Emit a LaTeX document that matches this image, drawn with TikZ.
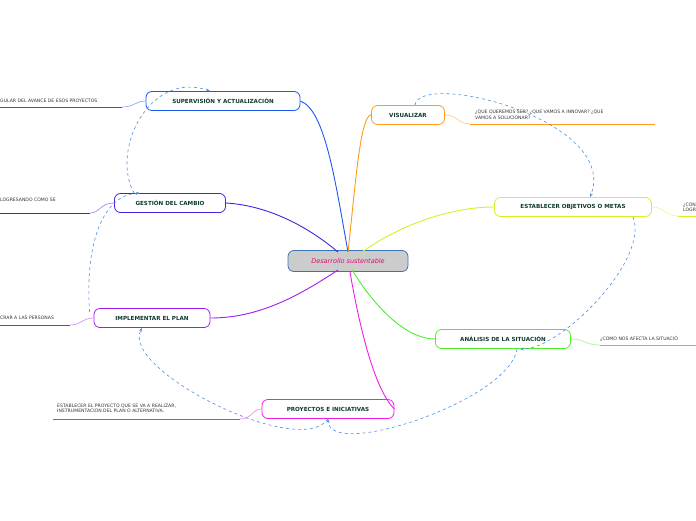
\documentclass[tikz,border=0pt]{standalone}
\usepackage{fontspec}
\setmainfont{DejaVu Sans}
\usetikzlibrary{arrows.meta}
\definecolor{cblue}{HTML}{1E56F0}
\definecolor{cind}{HTML}{4A1FE0}
\definecolor{cpur}{HTML}{A21CF0}
\definecolor{cmag}{HTML}{F01CE8}
\definecolor{cora}{HTML}{FF9A1A}
\definecolor{cyel}{HTML}{D6F02A}
\definecolor{cgre}{HTML}{4CF02A}
\definecolor{dash}{HTML}{4A90E2}
\definecolor{txt}{HTML}{0E3A2E}
\tikzset{x=1pt,y=-1pt,
 topic/.style={draw=#1,line width=0.8pt,rounded corners=6pt,fill=white,font=\bfseries\fontsize{5.6}{6}\selectfont,text=txt,minimum height=19pt,inner xsep=6pt},
 leaf/.style={font=\fontsize{4.6}{5.4}\selectfont,text=black!80,align=left,anchor=west,inner sep=0pt},
 link/.style={dashed,draw=dash,line width=0.6pt,-{Stealth[length=4pt]}},
 br/.style={line width=0.9pt}}
\begin{document}
\begin{tikzpicture}
\useasboundingbox (0,0) rectangle (696,520);
\node[draw=dash!80!black,fill=black!20,rounded corners=6pt,line width=0.8pt,minimum width=120pt,minimum height=21pt,font=\itshape\fontsize{6.5}{7}\selectfont,text=magenta!80!red] (c) at (348,261) {Desarrollo sustentable};
\node[topic=cblue,minimum width=154pt] (sup) at (223,101) {SUPERVISIÓN Y ACTUALIZACIÓN};
\node[topic=cind,minimum width=111pt] (ges) at (170,203) {GESTIÓN DEL CAMBIO};
\node[topic=cpur,minimum width=116pt] (imp) at (152,318) {IMPLEMENTAR EL PLAN};
\node[topic=cmag,minimum width=132pt] (pro) at (328,409) {PROYECTOS E INICIATIVAS};
\node[topic=cora,minimum width=73pt] (vis) at (408,115) {VISUALIZAR};
\node[topic=cyel,minimum width=157pt] (est) at (573,207) {ESTABLECER OBJETIVOS O METAS};
\node[topic=cgre,minimum width=135pt] (ana) at (503,339) {ANÁLISIS DE LA SITUACIÓN};
% branches
\coordinate (cc) at (348,252);
\draw[br,cblue] (cc) .. controls (335,180) and (325,110) .. (sup.east);
\draw[br,cind] (338,252) .. controls (300,220) and (260,205) .. (ges.east);
\draw[br,cpur] (338,270) .. controls (300,295) and (260,318) .. (imp.east);
\draw[br,cmag] (350,272) .. controls (360,330) and (375,390) .. (pro.east);
\draw[br,cora] (348,252) .. controls (355,190) and (360,115) .. (vis.west);
\draw[br,cyel] (362,252) .. controls (400,225) and (450,207) .. (est.west);
\draw[br,cgre] (352,270) .. controls (380,315) and (410,339) .. (ana.west);
% leaves
\node[leaf] (l1) at (0,101) {GULAR DEL AVANCE DE ESOS PROYECTOS};
\coordinate (l1e) at (122,107); \draw[br,cblue] (0,107) -- (l1e);
\draw[cblue!50,line width=0.7pt] (l1e) .. controls (135,107) and (135,101) .. (sup.west);
\node[leaf] (l2) at (0,200) {LOGRESANDO COMO SE};
\coordinate (l2e) at (90,213); \draw[br,cind] (0,213) -- (l2e);
\draw[cind!50,line width=0.7pt] (l2e) .. controls (100,213) and (100,203) .. (ges.west);
\node[leaf] (l3) at (0,318) {CRAR A LAS PERSONAS};
\coordinate (l3e) at (70,325); \draw[br,cpur] (0,325) -- (l3e);
\draw[cpur!50,line width=0.7pt] (l3e) .. controls (82,325) and (82,318) .. (imp.west);
\node[leaf] (l4) at (57,408.5) {ESTABLECER EL PROYECTO QUE SE VA A REALIZAR,\\INSTRUMENTACION DEL PLAN O ALTERNATIVA.};
\coordinate (l4s) at (53,419); \coordinate (l4e) at (240,419); \draw[br,cmag] (l4s) -- (l4e);
\draw[cmag!50,line width=0.7pt] (l4e) .. controls (252,419) and (252,409) .. (pro.west);
\node[leaf] (l5) at (475,115) {¿QUE QUEREMOS SER? ¿QUE VAMOS A INNOVAR? ¿QUE\\VAMOS A SOLUCIONAR?};
\coordinate (l5s) at (470,124); \draw[br,cora] (l5s) -- (655,124);
\draw[cora!50,line width=0.7pt] (vis.east) .. controls (458,115) and (458,124) .. (l5s);
\node[leaf] (l6) at (683,207.5) {¿CON\\LOGR};
\coordinate (l6s) at (678,216); \draw[br,cyel] (l6s) -- (696,216);
\draw[cyel!50,line width=0.7pt] (est.east) .. controls (665,207) and (665,216) .. (l6s);
\node[leaf] (l7) at (600,339) {¿COMO NOS AFECTA LA SITUACIÓ};
\coordinate (l7s) at (600,345); \draw[br,cgre] (l7s) -- (696,345);
\draw[cgre!50,line width=0.7pt] (ana.east) .. controls (585,339) and (585,345) .. (l7s);
% dashed links
\draw[link] (ges.north west) ++(20,0) .. controls (110,150) and (150,70) .. ([xshift=-13pt]sup.north);
\draw[link] (imp.north west) ++(-4,4) .. controls (85,250) and (100,195) .. ([xshift=-30pt]ges.north);
\draw[link] ([xshift=7pt]vis.north) .. controls (420,70) and (620,120) .. ([xshift=17pt]est.north);
\draw[link] ([xshift=60pt]est.south) .. controls (650,260) and (560,350) .. ([xshift=17pt]ana.south);
\draw[link] ([xshift=14pt]ana.south) .. controls (510,400) and (330,460) .. (pro.south);
\draw[link] (pro.south) .. controls (300,460) and (120,370) .. ([xshift=-10pt]imp.south);
\end{tikzpicture}
\end{document}
